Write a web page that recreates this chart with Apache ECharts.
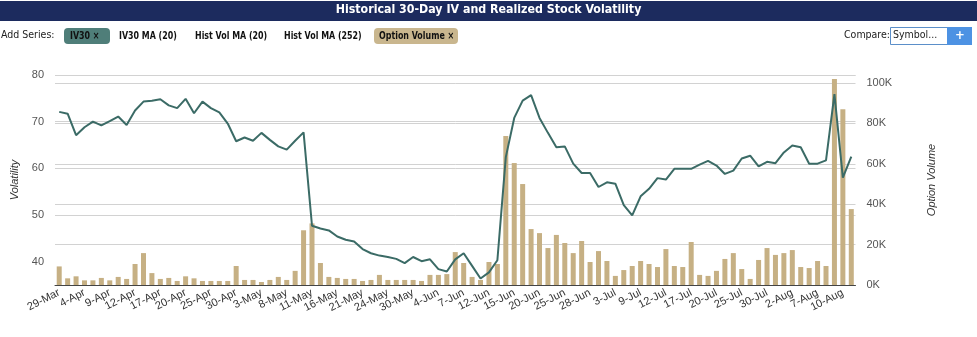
<!DOCTYPE html>
<html>
<head>
<meta charset="utf-8">
<script src="https://cdn.jsdelivr.net/npm/echarts@6/dist/echarts.min.js"></script>
<style>
html,body{margin:0;padding:0;background:#fff;}
#chart{width:977px;height:337px;}
</style>
</head>
<body>
<div id="chart"></div>
<script>
// ---- data ----
const dates = [
 '29-Mar',
 '2-Apr','3-Apr','4-Apr','5-Apr','6-Apr','9-Apr','10-Apr','11-Apr','12-Apr','13-Apr','16-Apr','17-Apr','18-Apr','19-Apr','20-Apr','23-Apr','24-Apr','25-Apr','26-Apr','27-Apr','30-Apr',
 '1-May','2-May','3-May','4-May','7-May','8-May','9-May','10-May','11-May','14-May','15-May','16-May','17-May','18-May','21-May','22-May','23-May','24-May','25-May','29-May','30-May','31-May',
 '1-Jun','4-Jun','5-Jun','6-Jun','7-Jun','8-Jun','11-Jun','12-Jun','13-Jun','14-Jun','15-Jun','18-Jun','19-Jun','20-Jun','21-Jun','22-Jun','25-Jun','26-Jun','27-Jun','28-Jun','29-Jun',
 '2-Jul','3-Jul','5-Jul','6-Jul','9-Jul','10-Jul','11-Jul','12-Jul','13-Jul','16-Jul','17-Jul','18-Jul','19-Jul','20-Jul','23-Jul','24-Jul','25-Jul','26-Jul','27-Jul','30-Jul','31-Jul',
 '1-Aug','2-Aug','3-Aug','6-Aug','7-Aug','8-Aug','9-Aug','10-Aug','13-Aug'
];
const iv30 = [
 72.1,71.7,67.1,68.8,70.0,69.2,70.1,71.1,69.3,72.4,
 74.3,74.5,74.8,73.5,72.9,74.9,71.8,74.3,72.9,72.0,
 69.6,65.8,66.6,65.9,67.6,66.1,64.7,64.0,65.9,67.7,
 47.7,47.1,46.7,45.4,44.7,44.3,42.7,41.8,41.3,41.0,
 40.6,39.7,41.0,40.1,40.5,38.4,37.9,40.5,41.8,39.1,
 36.4,37.7,40.3,62.4,70.8,74.5,75.7,70.8,67.6,64.5,
 64.7,61.0,59.0,59.0,56.0,57.0,56.7,52.1,49.9,54.0,
 55.6,57.9,57.6,59.9,59.9,59.9,60.8,61.6,60.6,58.8,
 59.5,62.1,62.7,60.4,61.4,61.1,63.4,64.9,64.5,61.0,
 61.0,61.7,75.9,58.0,62.5
];
const optionVolume = [
 9200,3300,4300,2300,2300,3500,2300,4000,3000,10400,
 15800,5900,3000,3500,2000,4300,3300,2000,2000,2000,
 2000,9400,2500,2500,1500,2500,4000,2500,7000,27100,
 30500,10900,4000,3500,3000,3000,2000,2500,5000,2500,
 2500,2500,2500,2000,5000,5000,5400,16300,10900,4000,
 2500,11400,10400,73800,60400,50000,27700,25700,18300,24800,
 20800,15800,21800,11400,16800,11900,4500,7400,9400,11900,
 10400,8900,17800,9400,8900,21300,5000,4500,7000,12900,
 15800,7900,3000,12400,18300,14900,15800,17300,8900,8400,
 11900,9400,102000,87100,37600
];
const volTicks = [0, 20000, 40000, 60000, 80000, 100000];
const ivTicks = [40, 50, 60, 70, 80];
const ivGridTicks = [50, 60, 70, 80];
const dateLabelStep = 3;

const chart = echarts.init(document.getElementById('chart'), null, {renderer: 'canvas'});
const uiFont = '"DejaVu Sans Condensed", "DejaVu Sans", sans-serif';
const axFont = '"Liberation Sans", Arial, sans-serif';

// left axis: min 35, step 5 -> ticks 35..80; show labels at multiples of 10, grid lines at 50..80
const ivMin = 35, ivMax = 80, ivStep = 5;
const ivLineColors = [];
for (let v = ivMin; v <= ivMax; v += ivStep) {
  ivLineColors.push(ivGridTicks.indexOf(v) >= 0 ? '#d2d2d2' : 'rgba(0,0,0,0)');
}

function uiText(x, y, text, bold) {
  return {type: 'text', left: x, top: y, scaleX: 0.88, originX: x, style: {text: text, fill: '#111', font: (bold ? 'bold ' : '') + '10px ' + uiFont}};
}

chart.setOption({
  animation: false,
  backgroundColor: '#fff',
  grid: {left: 55, right: 121.5, top: 75, bottom: 52, containLabel: false},
  xAxis: {
    type: 'category',
    data: dates,
    boundaryGap: true,
    axisTick: {show: false},
    axisLine: {lineStyle: {color: '#444', width: 1}},
    axisLabel: {interval: 0, rotate: 27, fontSize: 11, color: '#333', fontFamily: axFont, margin: 7,
      hideOverlap: false,
      formatter: (val, idx) => idx % dateLabelStep === 0 ? val : ''}
  },
  yAxis: [
    {
      type: 'value', position: 'left', min: ivMin, max: ivMax, interval: ivStep,
      name: 'Volatility', nameLocation: 'middle', nameGap: 32,
      nameTextStyle: {fontStyle: 'italic', fontSize: 11, color: '#333', fontFamily: axFont},
      axisLine: {show: false}, axisTick: {show: false},
      axisLabel: {fontSize: 11, color: '#555', fontFamily: axFont, margin: 11,
        formatter: v => ivTicks.indexOf(v) >= 0 ? String(v) : ''},
      splitLine: {show: true, lineStyle: {color: ivLineColors, width: 1}}
    },
    {
      type: 'value', position: 'right', min: 0, max: 104000, interval: 20000,
      name: 'Option Volume', nameLocation: 'middle', nameGap: 71,
      nameTextStyle: {fontStyle: 'italic', fontSize: 11, color: '#333', fontFamily: axFont},
      axisLine: {show: false}, axisTick: {show: false},
      axisLabel: {fontSize: 11, color: '#555', fontFamily: axFont, margin: 11,
        formatter: v => volTicks.indexOf(v) >= 0 ? (v/1000) + 'K' : ''},
      splitLine: {show: true, lineStyle: {color: '#d2d2d2', width: 1}}
    }
  ],
  series: [
    {
      name: 'Option Volume', type: 'bar', yAxisIndex: 1, data: optionVolume,
      barWidth: 5, itemStyle: {color: '#c6b084'}, z: 2
    },
    {
      name: 'IV30', type: 'line', yAxisIndex: 0, data: iv30,
      symbol: 'none', lineStyle: {color: '#3b6b66', width: 2}, z: 3
    }
  ],
  graphic: [
    {type: 'rect', left: 0, top: 1, shape: {width: 977, height: 20}, style: {fill: '#1c2b5e'}},
    {type: 'text', left: 'center', top: 4, style: {text: 'Historical 30-Day IV and Realized Stock Volatility', fill: '#fff', font: 'bold 12.3px ' + uiFont}},
    {type: 'text', left: 1, top: 30, style: {text: 'Add Series:', fill: '#222', font: '10.5px ' + uiFont}},
    {type: 'rect', left: 64, top: 28, shape: {width: 46, height: 16, r: 4}, style: {fill: '#4f7e79'}},
    uiText(70, 31, 'IV30 ×', true),
    uiText(119, 31, 'IV30 MA (20)', true),
    uiText(195, 31, 'Hist Vol MA (20)', true),
    uiText(284, 31, 'Hist Vol MA (252)', true),
    {type: 'rect', left: 374, top: 28, shape: {width: 84, height: 16, r: 4}, style: {fill: '#c9b68e'}},
    uiText(379, 31, 'Option Volume ×', true),
    {type: 'text', left: 844, top: 30, style: {text: 'Compare:', fill: '#222', font: '10.5px ' + uiFont}},
    {type: 'rect', left: 890, top: 27, shape: {width: 57, height: 17}, style: {fill: '#fff', stroke: '#5b8fc9', lineWidth: 1}},
    {type: 'text', left: 893, top: 30, style: {text: 'Symbol...', fill: '#222', font: '10.5px ' + uiFont}},
    {type: 'rect', left: 947, top: 27, shape: {width: 25, height: 18}, style: {fill: '#4d92e3'}},
    {type: 'text', left: 955, top: 29, style: {text: '+', fill: '#fff', font: 'bold 13px ' + uiFont}}
  ]
});
</script>
</body>
</html>
